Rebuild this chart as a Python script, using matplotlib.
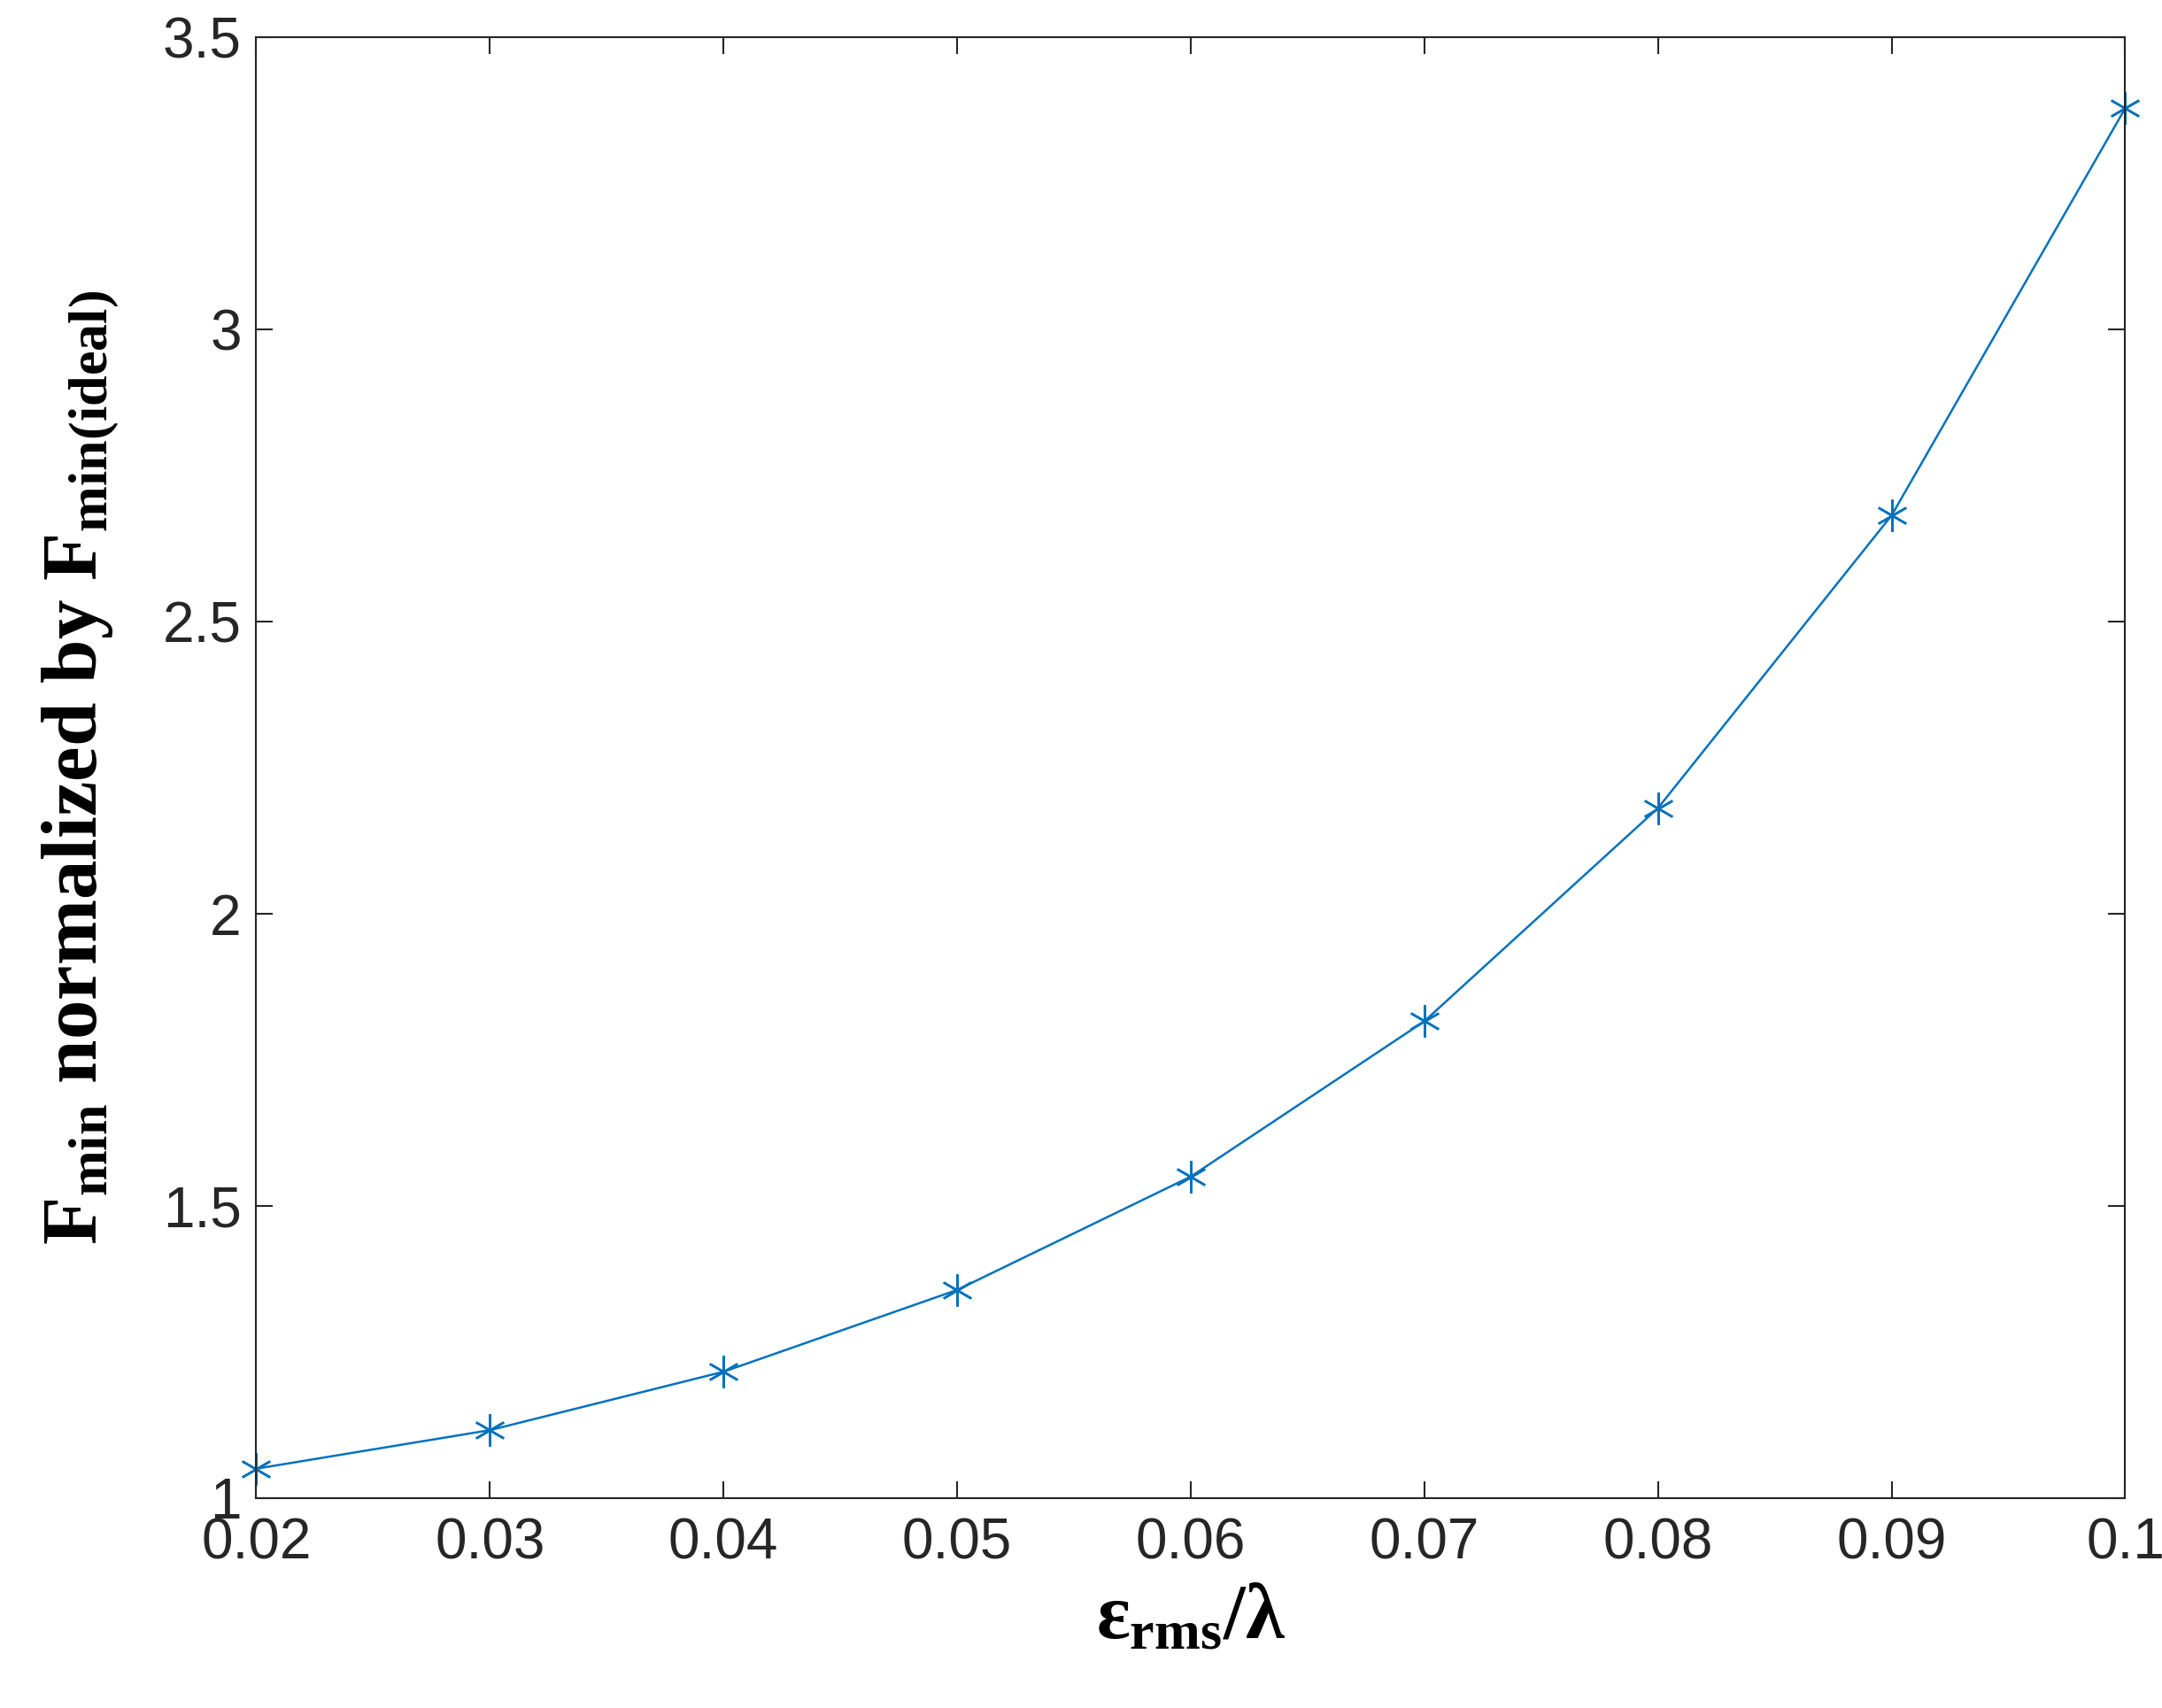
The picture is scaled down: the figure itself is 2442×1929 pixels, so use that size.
import matplotlib
matplotlib.use('Agg')
import matplotlib.pyplot as plt

# data
eps_ratio = [0.02, 0.03, 0.04, 0.05, 0.06, 0.07, 0.08, 0.09, 0.10]
fmin_norm = [1.05, 1.116, 1.216, 1.356, 1.55, 1.816, 2.181, 2.682, 3.379]
xticks = [0.02, 0.03, 0.04, 0.05, 0.06, 0.07, 0.08, 0.09, 0.1]
xticklabels = ['0.02', '0.03', '0.04', '0.05', '0.06', '0.07', '0.08', '0.09', '0.1']
yticks = [1, 1.5, 2, 2.5, 3, 3.5]
yticklabels = ['1', '1.5', '2', '2.5', '3', '3.5']

plt.rcParams['font.family'] = ['Liberation Sans', 'DejaVu Sans']
plt.rcParams['mathtext.fontset'] = 'custom'
plt.rcParams['mathtext.rm'] = 'Liberation Serif:bold'
plt.rcParams['mathtext.it'] = 'Liberation Serif:bold'
plt.rcParams['mathtext.bf'] = 'Liberation Serif:bold'

fig = plt.figure(figsize=(24.42, 19.29), dpi=100)
ax = fig.add_axes([0.1185, 0.123, 0.8645, 0.855])

ax.plot(eps_ratio, fmin_norm, color='#0072BD', linewidth=1.8,
        marker=(6, 2, 0), markersize=26, markeredgewidth=1.8, clip_on=False)

ax.set_xlim(0.02, 0.1)
ax.set_ylim(1, 3.5)
ax.set_xticks(xticks)
ax.set_xticklabels(xticklabels)
ax.set_yticks(yticks)
ax.set_yticklabels(yticklabels)
ax.tick_params(direction='in', length=14, width=1.5, top=True, right=True,
               labelsize=46, colors='#262626')
ax.tick_params(axis='x', pad=16)
ax.tick_params(axis='y', pad=12)
for s in ax.spines.values():
    s.set_linewidth(1.5)
    s.set_color('#262626')

ax.set_xlabel(r'$\varepsilon_{rms}/\lambda$', fontsize=64, labelpad=8)
ax.set_ylabel(r'$\mathrm{F_{min}}$' + ' normalized by ' + r'$\mathrm{F_{min(ideal)}}$',
              fontsize=64, family='Liberation Serif', fontweight='bold', labelpad=34)

fig.savefig('out.png', dpi=100)
